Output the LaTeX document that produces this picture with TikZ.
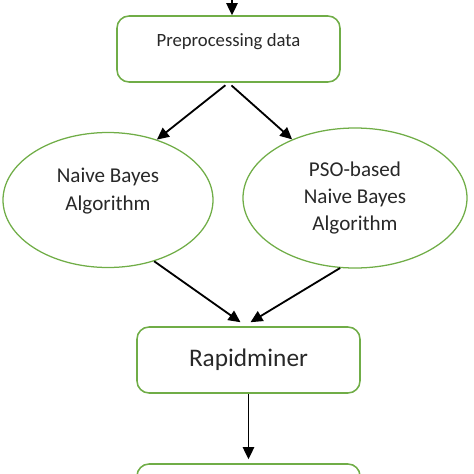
\documentclass[tikz,border=0pt]{standalone}
\usepackage{fontspec}
\setmainfont{Carlito}
\usetikzlibrary{arrows.meta,shapes.geometric}
\definecolor{boxgreen}{RGB}{112, 173, 71}
\definecolor{textgray}{RGB}{40, 40, 40}

\tikzset{
  stepbox/.style={draw=boxgreen, line width=1.1pt, rounded corners=0.3cm, fill=white,
    minimum width=5.575cm, minimum height=1.65cm, text=textgray},
  algo/.style={draw=boxgreen, line width=0.9pt, ellipse, align=center, text=textgray,
    font=\fontsize{15}{19.5}\selectfont},
  flow/.style={-{Triangle[length=0.3cm,width=0.28cm]}, line width=1.3pt}
}

\begin{document}
\begin{tikzpicture}
\useasboundingbox (0,0) rectangle (11.85,-11.85);
\clip (0,0) rectangle (11.85,-11.85);

% Boxes and algorithms
\coordinate (top) at (5.8,0.2);
\node[stepbox, label={[text=textgray, font=\fontsize{13.3}{16}\selectfont, yshift=0.175cm]center:Preprocessing data}] (prep) at (5.7125,-1.225) {};
\node[algo, minimum width=5.25cm, minimum height=3.375cm, label={[algo, draw=none, yshift=0.22cm]center:Naive Bayes\\Algorithm}] (nb) at (2.7,-5.0) {};
\node[algo, minimum width=5.6cm, minimum height=3.5cm] (pso) at (8.875,-4.95) {PSO-based\\Naive Bayes\\Algorithm};
\node[stepbox, font=\fontsize{18}{22}\selectfont] (rapid) at (6.2125,-9.0) {Rapidminer};
\node[stepbox] (result) at (6.2125,-12.425) {};

% Connecting arrows
\draw[flow] (top) -- (top |- prep.north);
\draw[flow, shorten <=0.1cm] (prep.south) -- (nb.51);
\draw[flow, shorten <=0.1cm] (prep.south) -- (pso.137);
\draw[flow] (nb.-53) -- ([xshift=-0.2cm,yshift=0.1cm]rapid.north);
\draw[flow] (pso.258) -- ([xshift=0.05cm,yshift=0.1cm]rapid.north);
\draw[flow, shorten >=0.1cm] (rapid) -- (result);
\end{tikzpicture}
\end{document}
